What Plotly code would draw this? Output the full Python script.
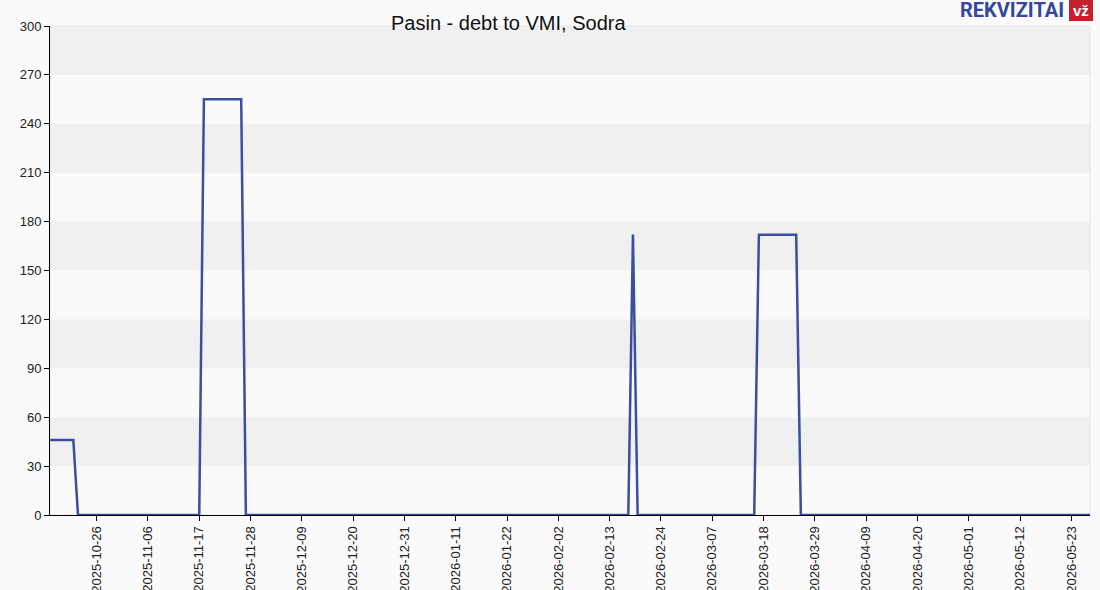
import plotly.graph_objects as go

# Data (change points of the debt series)
dates = ["2025-10-16", "2025-10-21", "2025-10-22", "2025-11-17", "2025-11-18",
         "2025-11-26", "2025-11-27", "2026-02-17", "2026-02-18", "2026-02-19",
         "2026-03-16", "2026-03-17", "2026-03-25", "2026-03-26", "2026-05-27"]
values = [46, 46, 0, 0, 255, 255, 0, 0, 172, 0, 0, 172, 172, 0, 0]

tick_labels = ["2025-10-26", "2025-11-06", "2025-11-17", "2025-11-28", "2025-12-09",
               "2025-12-20", "2025-12-31", "2026-01-11", "2026-01-22", "2026-02-02",
               "2026-02-13", "2026-02-24", "2026-03-07", "2026-03-18", "2026-03-29",
               "2026-04-09", "2026-04-20", "2026-05-01", "2026-05-12", "2026-05-23"]
y_ticks = [0, 30, 60, 90, 120, 150, 180, 210, 240, 270, 300]

title = "Pasin - debt to VMI, Sodra"
line_color = "#3a4ea2"

W, H = 1100, 590
L, R, T, B = 50, 10, 26, 75
PW = W - L - R
PH = H - T - B


def px_x(x):  # page x -> paper coord
    return (x - L) / PW


def px_y(y):  # page y -> paper coord
    return 1 - (y - T) / PH


fig = go.Figure()
fig.add_trace(go.Scatter(x=dates, y=values, mode="lines",
                         line=dict(color=line_color, width=2.5),
                         hoverinfo="x+y", showlegend=False))

shapes = []
for i in range(len(y_ticks) - 1):
    if i % 2 == 1:
        shapes.append(dict(type="rect", xref="paper", yref="y", x0=0, x1=1,
                           y0=y_ticks[i], y1=y_ticks[i + 1],
                           fillcolor="#f0f0f0", line=dict(width=0), layer="below"))
shapes.append(dict(type="rect", xref="paper", yref="paper", x0=0, x1=1, y0=0, y1=1,
                   line=dict(color="#e6e6e6", width=1), layer="below"))
# logo box
shapes.append(dict(type="rect", xref="paper", yref="paper", x0=px_x(1069),
                   x1=px_x(1093), y0=px_y(21), y1=px_y(0),
                   fillcolor="#c5202e", line=dict(width=0), layer="above"))

fig.update_layout(
    width=W, height=H,
    margin=dict(l=L, r=R, t=T, b=B),
    paper_bgcolor="#fafafa", plot_bgcolor="#fafafa",
    font=dict(family="Liberation Sans, Arial, sans-serif", size=13, color="#222"),
    shapes=shapes,
    annotations=[
        dict(text=title, xref="paper", yref="paper", x=px_x(508),
             y=px_y(23), xanchor="center", yanchor="middle",
             showarrow=False, font=dict(size=20, color="#111")),
        dict(text="<b>REKVIZITAI</b>", xref="paper", yref="paper",
             x=px_x(1066), y=px_y(10), xanchor="right", yanchor="middle",
             showarrow=False,
             font=dict(family="Roboto, Liberation Sans, sans-serif",
                       size=20, color="#34469b")),
        dict(text="<b>vž</b>", xref="paper", yref="paper",
             x=px_x(1081), y=px_y(11), xanchor="center", yanchor="middle",
             showarrow=False,
             font=dict(family="Liberation Sans, sans-serif", size=15, color="white")),
    ],
    xaxis=dict(type="date", range=["2025-10-16", "2026-05-27"],
               tickvals=tick_labels, ticktext=tick_labels, tickangle=-90,
               showgrid=False, zeroline=False, showline=True, linecolor="black",
               linewidth=1, ticks="outside", ticklen=5, tickcolor="black",
               automargin=False, tickfont=dict(size=13, color="#222")),
    yaxis=dict(range=[0, 300], tickvals=y_ticks, showgrid=False, zeroline=False,
               showline=True, linecolor="black", linewidth=1, ticks="outside",
               ticklen=5, tickcolor="black", automargin=False,
               tickfont=dict(size=13, color="#222")),
)

fig.write_html("out.html", config={"displayModeBar": False},
               post_script="document.body.style.margin='0';document.body.style.overflow='hidden';")
